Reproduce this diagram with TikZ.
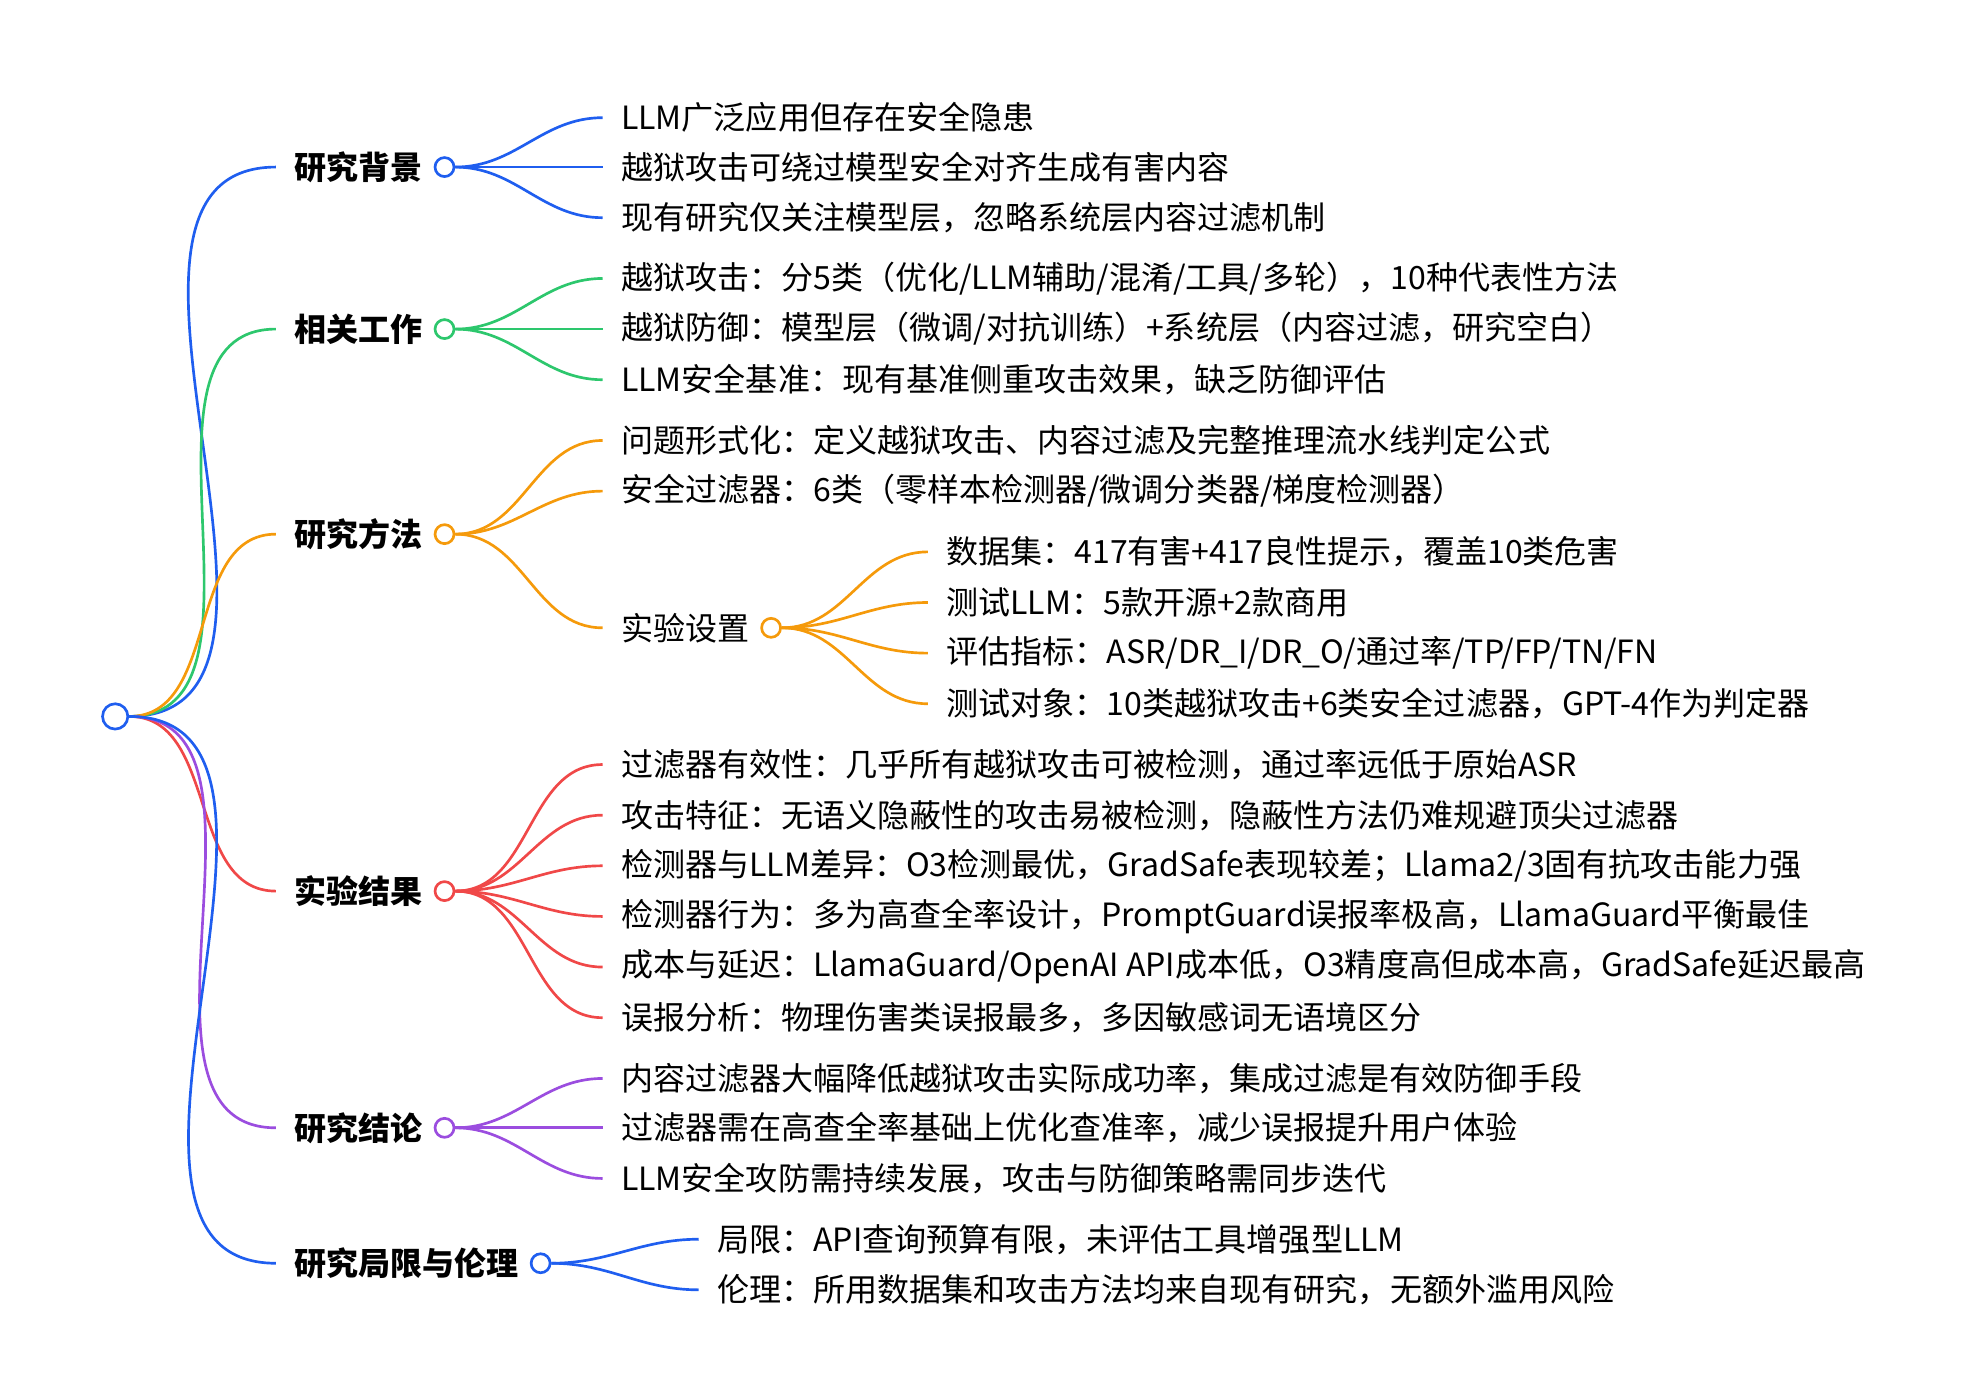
\documentclass[tikz,border=0pt]{standalone}
\usepackage{fontspec}
\setmainfont{Noto Sans CJK SC}
\usetikzlibrary{positioning}
\definecolor{cblue}{HTML}{1F5EEF}
\definecolor{cgreen}{HTML}{2DC76D}
\definecolor{corange}{HTML}{F59A0B}
\definecolor{cred}{HTML}{F04848}
\definecolor{cpurple}{HTML}{9B4DDF}
\tikzset{
  every node/.style={font=\fontsize{7.2}{8}\selectfont},
  branch/.style={anchor=west,inner xsep=0.14cm,font=\fontsize{7.2}{8}\selectfont\bfseries},
  leaf/.style={anchor=west,inner xsep=0.14cm},
  dotc/.style={circle,draw=#1,fill=white,line width=0.6pt,minimum size=0.15cm,inner sep=0pt},
  link/.style={draw=#1,line width=0.6pt}
}
\begin{document}
\begin{tikzpicture}
  \useasboundingbox (0,0) rectangle (15.5,11);
  \node[dotc=cblue,minimum size=0.2cm] (root) at (0.91,5.34) {};

  % --- 研究背景 ---
  \node[branch] (bg) at (2.18,9.68) {研究背景};
  \node[dotc=cblue,right=-0.06cm of bg] (bgc) {};
  \draw[link=cblue] (root.east) to[out=0,in=180] (bg.west);
  \foreach \y/\t [count=\i] in {10.07/{LLM广泛应用但存在安全隐患},9.68/{越狱攻击可绕过模型安全对齐生成有害内容},9.28/{现有研究仅关注模型层，忽略系统层内容过滤机制}}{
    \node[leaf] (bg\i) at (4.76,\y) {\t};
    \draw[link=cblue] (bgc.east) to[out=0,in=180] (bg\i.west);
  }

  % --- 相关工作 ---
  \node[branch] (rw) at (2.18,8.40) {相关工作};
  \node[dotc=cgreen,right=-0.06cm of rw] (rwc) {};
  \draw[link=cgreen] (root.east) to[out=0,in=180] (rw.west);
  \foreach \y/\t [count=\i] in {8.80/{越狱攻击：分5类（优化/LLM辅助/混淆/工具/多轮），10种代表性方法},8.40/{越狱防御：模型层（微调/对抗训练）+系统层（内容过滤，研究空白）},8.00/{LLM安全基准：现有基准侧重攻击效果，缺乏防御评估}}{
    \node[leaf] (rw\i) at (4.76,\y) {\t};
    \draw[link=cgreen] (rwc.east) to[out=0,in=180] (rw\i.west);
  }

  % --- 研究方法 ---
  \node[branch] (ff) at (2.18,6.78) {研究方法};
  \node[dotc=corange,right=-0.06cm of ff] (ffc) {};
  \draw[link=corange] (root.east) to[out=0,in=180] (ff.west);
  \foreach \y/\t [count=\i] in {7.52/{问题形式化：定义越狱攻击、内容过滤及完整推理流水线判定公式},7.12/{安全过滤器：6类（零样本检测器/微调分类器/梯度检测器）}}{
    \node[leaf] (ff\i) at (4.76,\y) {\t};
    \draw[link=corange] (ffc.east) to[out=0,in=180] (ff\i.west);
  }
  \node[leaf] (sy) at (4.76,6.04) {实验设置};
  \node[dotc=corange,right=-0.06cm of sy] (syc) {};
  \draw[link=corange] (ffc.east) to[out=0,in=180] (sy.west);
  \foreach \y/\t [count=\i] in {6.64/{数据集：417有害+417良性提示，覆盖10类危害},6.24/{测试LLM：5款开源+2款商用},5.84/{评估指标：ASR/DR\_I/DR\_O/通过率/TP/FP/TN/FN},5.44/{测试对象：10类越狱攻击+6类安全过滤器，GPT-4作为判定器}}{
    \node[leaf] (sy\i) at (7.33,\y) {\t};
    \draw[link=corange] (syc.east) to[out=0,in=180] (sy\i.west);
  }

  % --- 实验结果 ---
  \node[branch] (jg) at (2.18,3.96) {实验结果};
  \node[dotc=cred,right=-0.06cm of jg] (jgc) {};
  \draw[link=cred] (root.east) to[out=0,in=180] (jg.west);
  \foreach \y/\t [count=\i] in {4.96/{过滤器有效性：几乎所有越狱攻击可被检测，通过率远低于原始ASR},4.56/{攻击特征：无语义隐蔽性的攻击易被检测，隐蔽性方法仍难规避顶尖过滤器},4.16/{检测器与LLM差异：O3检测最优，GradSafe表现较差；Llama2/3固有抗攻击能力强},3.76/{检测器行为：多为高查全率设计，PromptGuard误报率极高，LlamaGuard平衡最佳},3.36/{成本与延迟：LlamaGuard/OpenAI API成本低，O3精度高但成本高，GradSafe延迟最高},2.96/{误报分析：物理伤害类误报最多，多因敏感词无语境区分}}{
    \node[leaf] (jg\i) at (4.76,\y) {\t};
    \draw[link=cred] (jgc.east) to[out=0,in=180] (jg\i.west);
  }

  % --- 研究结论 ---
  \node[branch] (jl) at (2.18,2.09) {研究结论};
  \node[dotc=cpurple,right=-0.06cm of jl] (jlc) {};
  \draw[link=cpurple] (root.east) to[out=0,in=180] (jl.west);
  \foreach \y/\t [count=\i] in {2.48/{内容过滤器大幅降低越狱攻击实际成功率，集成过滤是有效防御手段},2.09/{过滤器需在高查全率基础上优化查准率，减少误报提升用户体验},1.69/{LLM安全攻防需持续发展，攻击与防御策略需同步迭代}}{
    \node[leaf] (jl\i) at (4.76,\y) {\t};
    \draw[link=cpurple] (jlc.east) to[out=0,in=180] (jl\i.west);
  }

  % --- 研究局限与伦理 ---
  \node[branch] (jx) at (2.18,1.02) {研究局限与伦理};
  \node[dotc=cblue,right=-0.06cm of jx] (jxc) {};
  \draw[link=cblue] (root.east) to[out=0,in=180] (jx.west);
  \foreach \y/\t [count=\i] in {1.21/{局限：API查询预算有限，未评估工具增强型LLM},0.81/{伦理：所用数据集和攻击方法均来自现有研究，无额外滥用风险}}{
    \node[leaf] (jx\i) at (5.52,\y) {\t};
    \draw[link=cblue] (jxc.east) to[out=0,in=180] (jx\i.west);
  }
\end{tikzpicture}
\end{document}
